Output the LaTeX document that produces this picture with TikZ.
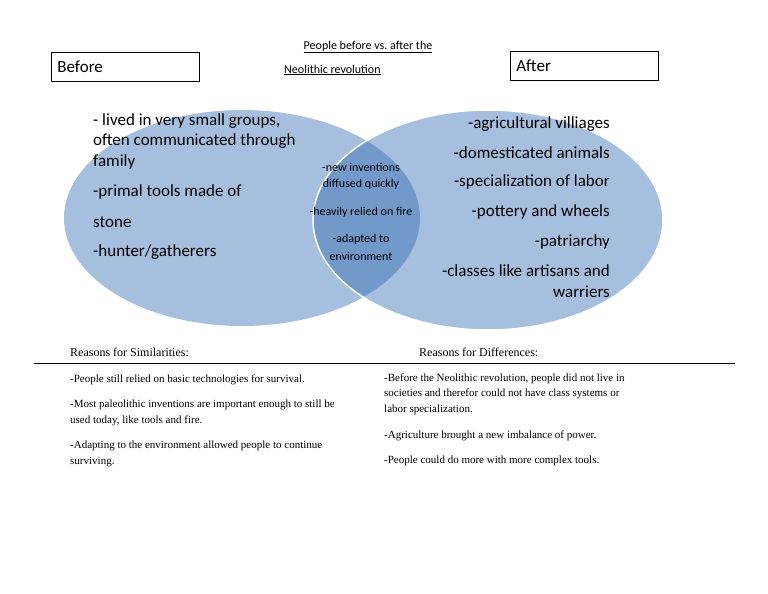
\documentclass[tikz,border=0pt]{standalone}
\usepackage{fontspec}
\setmainfont{Liberation Serif}
\newfontfamily\calfont{Carlito}
\definecolor{lb}{HTML}{A6BFDE}
\definecolor{db}{HTML}{7199CA}
\begin{document}
\begin{tikzpicture}[x=1pt,y=-1pt,
  big/.style={font=\calfont\fontsize{17}{20}\selectfont,inner sep=0pt},
  mid/.style={font=\calfont\fontsize{12}{14}\selectfont,inner sep=0pt},
  sm/.style={font=\fontsize{11}{13}\selectfont,inner sep=0pt,anchor=west},
  lbl/.style={draw,thick,minimum width=148pt,minimum height=29pt,font=\calfont\fontsize{17}{20}\selectfont,anchor=north west,inner sep=6pt,text width=136pt}]
\fill[white] (0,0) rectangle (768,594);
\useasboundingbox (0,0) rectangle (768,594);
\fill[lb] (242,218) ellipse [x radius=178,y radius=108];
\fill[lb] (488,220) ellipse [x radius=175,y radius=110];
\begin{scope}
\clip (242,218) ellipse [x radius=178,y radius=108];
\fill[db] (488,220) ellipse [x radius=175,y radius=110];
\end{scope}
\draw[white,line width=1.5pt] (488,220) ellipse [x radius=175,y radius=110];
\node[lbl] (before) at (51,52) {Before};
\node[lbl] (after) at (510,51) {After};
\node[font=\calfont\fontsize{12}{14}\selectfont,inner sep=0pt] (t1) at (368,47) {\underline{People before vs.\ after the}};
\node[font=\calfont\fontsize{12}{14}\selectfont,inner sep=0pt,anchor=west] (t2) at (284,70) {\underline{Neolithic revolution}};
\foreach \t/\y [count=\i] in {{- lived in very small groups,}/121,{often communicated through}/141,{family}/162,{-primal tools made of}/192,{stone}/222,{-hunter/gatherers}/252}
  \node[big,anchor=west] (l\i) at (93,\y) {\t};
\foreach \t/\y [count=\i] in {{-agricultural villiages}/124,{-domesticated animals}/153,{-specialization of labor}/182,{-pottery and wheels}/212,{-patriarchy}/242,{-classes like artisans and}/271,{warriers}/292}
  \node[big,anchor=east] (r\i) at (610,\y) {\t};
\foreach \t/\y [count=\i] in {{-new inventions}/167,{diffused quickly}/184,{-heavily relied on fire}/212,{-adapted to}/239,{environment}/256}
  \node[mid] (m\i) at (361,\y) {\t};
\draw[thin] (34,363) -- (735,363);
\node[font=\fontsize{12}{14}\selectfont,inner sep=0pt,anchor=west] (rs) at (70,352) {Reasons for Similarities:};
\node[font=\fontsize{12}{14}\selectfont,inner sep=0pt,anchor=west] (rd) at (419,352) {Reasons for Differences:};
\foreach \t/\y [count=\i] in {{-People still relied on basic technologies for survival.}/380,{-Most paleolithic inventions are important enough to still be}/405,{used today, like tools and fire.}/421,{-Adapting to the environment allowed people to continue}/446,{surviving.}/462}
  \node[sm] (s\i) at (70,\y) {\t};
\foreach \t/\y [count=\i] in {{-Before the Neolithic revolution, people did not live in}/379,{societies and therefor could not have class systems or}/394,{labor specialization.}/410,{-Agriculture brought a new imbalance of power.}/436,{-People could do more with more complex tools.}/461}
  \node[sm] (d\i) at (384,\y) {\t};
\end{tikzpicture}
\end{document}
